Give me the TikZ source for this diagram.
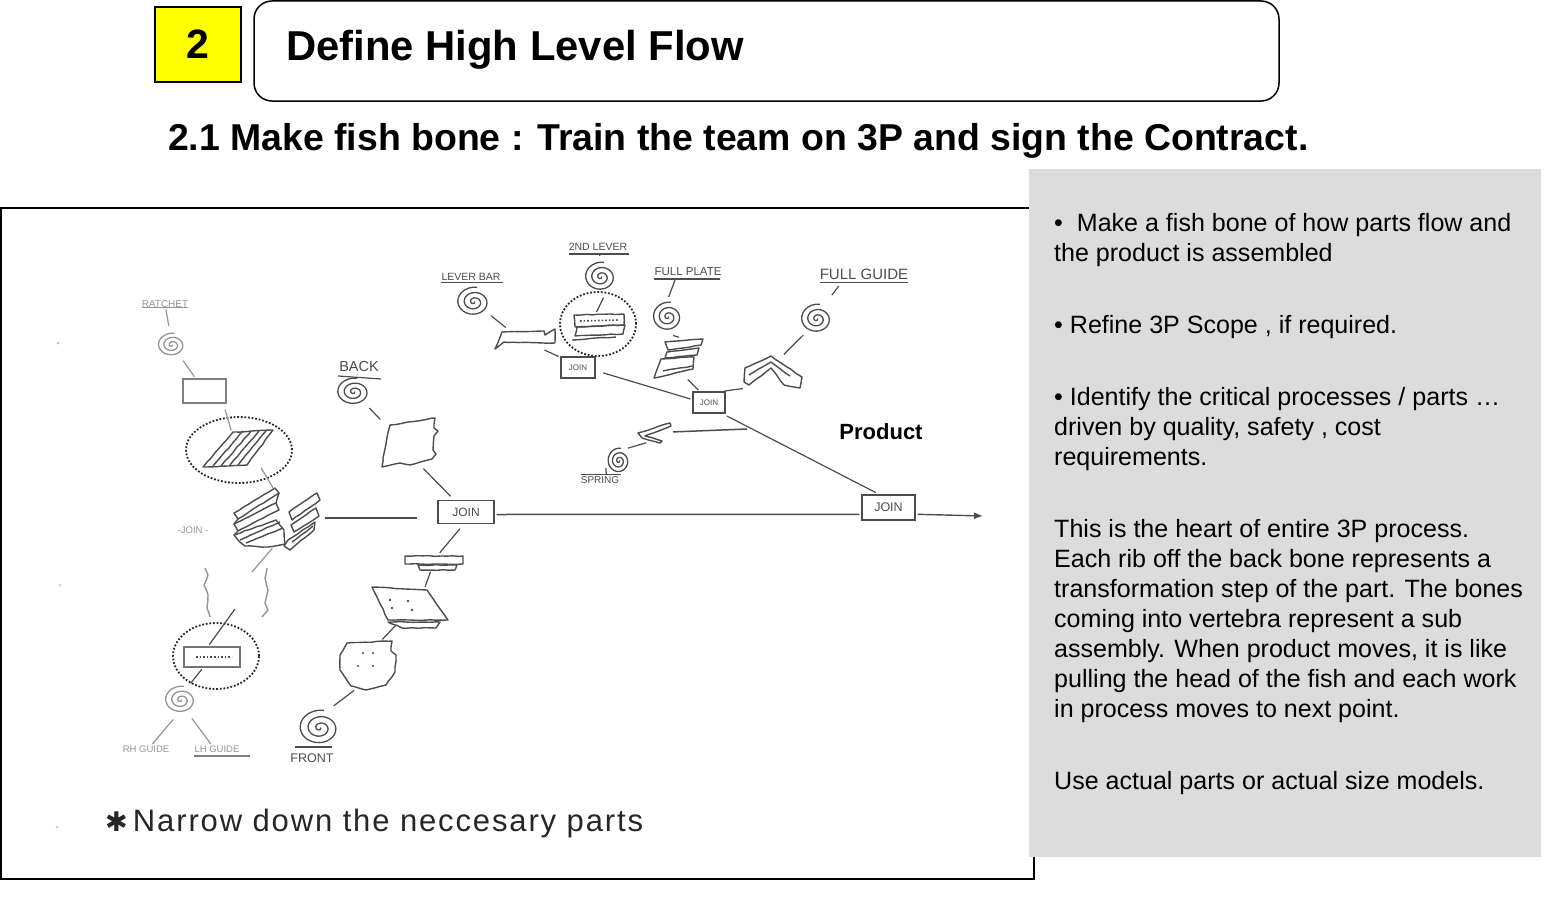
\documentclass[tikz,border=0pt]{standalone}
\usepackage{fontspec}
\setmainfont{Liberation Sans}
\newfontfamily\notefont[LetterSpace=6]{Liberation Sans}
\newfontfamily\starfont{DejaVu Sans}
\usetikzlibrary{shapes.geometric,decorations.pathmorphing,arrows.meta}

\definecolor{panelgray}{HTML}{DCDCDC}
\definecolor{stepyellow}{HTML}{FFFF00}
\colorlet{ink}{black!70}
\colorlet{faintink}{black!42}

\tikzset{
  rough/.style={draw=ink,line width=1.4pt,line join=round,decorate,
    decoration={random steps,segment length=6pt,amplitude=0.4pt}},
  faintrough/.style={rough,draw=faintink},
  link/.style={draw=ink,line width=1.2pt,shorten >=2pt,shorten <=2pt},
  faintlink/.style={link,draw=faintink},
  joinbox/.style={rectangle,draw=ink,line width=1.2pt,inner sep=0pt,text=ink},
  partbox/.style={rectangle,inner sep=0pt},
  sketchlabel/.style={inner sep=0pt,text=ink},
  dotring/.style={ellipse,draw=black!85,line width=1.8pt,inner sep=0pt,
    dash pattern=on 1.8pt off 1.8pt},
  bodyline/.style={anchor=base west,inner sep=0pt,font=\fontsize{25.05}{30}\selectfont,text=black}
}

% spiral with a round node round it, so connectors stop short of it
\newcommand{\coil}[6][ink]{
  \node[circle,inner sep=0pt,minimum size=#5*2pt+4pt] (#2) at (#3,#4) {};
  \draw[#1,line width=1.3pt,smooth] plot[domain=0:1000,samples=70,variable=\t]
    ({#3+#5*(\t/1000)*cos(\t)},{#4+#6*(\t/1000)*sin(\t)});
}

\begin{document}
\begin{tikzpicture}[x=1pt,y=-1pt]
\useasboundingbox (0,0) rectangle (1566,907);

% header
\node[rectangle,draw=black,line width=2pt,fill=stepyellow,minimum width=86pt,minimum height=74pt,
  font=\fontsize{41}{41}\bfseries\selectfont] (stepno) at (197.5,44.5) {2};
\node[rectangle,rounded corners=18pt,draw=black,line width=1.5pt,minimum width=1025pt,minimum height=100pt] (titlebox) at (766.5,51) {};
\node[anchor=base west,inner sep=0pt,font=\fontsize{41.8}{40}\bfseries\selectfont] (title) at (286,60) {Define High Level Flow};
\node[anchor=base west,inner sep=0pt,font=\fontsize{37.4}{40}\bfseries\selectfont] (subtitle) at (168,150) {2.1 Make fish bone : Train the team on 3P and sign the Contract.};

% photo frame and grey panel
\node[rectangle,draw=black,line width=1.3pt,minimum width=1033pt,minimum height=671pt] (frame) at (517.5,543.5) {};
\node[rectangle,fill=panelgray,minimum width=512pt,minimum height=688pt] (panel) at (1285,513) {};

\node[bodyline] (t1) at (1054,231) {•\ \ Make a fish bone of how parts flow and};
\node[bodyline] (t2) at (1054,261) {the product is assembled};
\node[bodyline] (t3) at (1054,333) {• Refine 3P Scope , if required.};
\node[bodyline] (t4) at (1054,405) {• Identify the critical processes / parts …};
\node[bodyline] (t5) at (1054,435) {driven by quality, safety , cost};
\node[bodyline] (t6) at (1054,465) {requirements.};
\node[bodyline] (t7) at (1054,537) {This is the heart of entire 3P process.};
\node[bodyline] (t8) at (1054,567) {Each rib off the back bone represents  a};
\node[bodyline] (t9) at (1054,597) {transformation step of the part. The bones};
\node[bodyline] (t10) at (1054,627) {coming into vertebra  represent a sub};
\node[bodyline] (t11) at (1054,657) {assembly.  When product moves, it is like};
\node[bodyline] (t12) at (1054,687) {pulling the head of the fish and each work};
\node[bodyline] (t13) at (1054,717) {in process moves to next point.};
\node[bodyline] (t14) at (1054,789) {Use actual parts or actual size models.};

\node[inner sep=0pt,font=\fontsize{22}{22}\bfseries\selectfont] (product) at (881,432) {Product};
\node[anchor=base west,inner sep=0pt,text=black!85,font=\fontsize{31}{31}\notefont] (note) at (105,831) {{\starfont\fontsize{27}{27}\selectfont ✱}\,Narrow down the neccesary parts};

% scan specks
\fill[black!25] (58,343) circle (1.5pt);
\fill[black!15] (60,585) circle (1.5pt);
\fill[red!30] (57,827) circle (1.5pt);

% joins
\node[joinbox,minimum width=56pt,minimum height=23pt,font=\fontsize{12}{12}\selectfont] (joinA) at (466,512) {JOIN};
\node[joinbox,minimum width=53pt,minimum height=25pt,font=\fontsize{12.5}{12}\selectfont] (joinB) at (888.5,507.5) {JOIN};
\node[joinbox,minimum width=34pt,minimum height=21pt,font=\fontsize{8}{8}\selectfont] (joinC) at (578,367.5) {JOIN};
\node[joinbox,minimum width=32pt,minimum height=21pt,font=\fontsize{8}{8}\selectfont] (joinD) at (709,402.5) {JOIN};

% labels
\node[sketchlabel,font=\fontsize{10}{10}\selectfont,text=faintink] (lblRatchet) at (165,304) {RATCHET};
\node[sketchlabel,font=\fontsize{14.5}{14}\selectfont] (lblBack) at (359,367) {BACK};
\node[sketchlabel,font=\fontsize{10.5}{10}\selectfont] (lblLever) at (471,277) {LEVER BAR};
\node[sketchlabel,font=\fontsize{10.5}{10}\selectfont] (lblSecond) at (598,247) {2ND LEVER};
\node[sketchlabel,font=\fontsize{11.5}{10}\selectfont] (lblPlate) at (688,272) {FULL PLATE};
\node[sketchlabel,font=\fontsize{15}{14}\selectfont] (lblGuide) at (864,274) {FULL GUIDE};
\node[sketchlabel,font=\fontsize{10}{10}\selectfont] (lblSpring) at (600,480) {SPRING};
\node[sketchlabel,font=\fontsize{12.5}{12}\selectfont] (lblFront) at (312,758) {FRONT};
\node[sketchlabel,font=\fontsize{9.5}{10}\selectfont,text=faintink] (lblRh) at (146,749) {RH GUIDE};
\node[sketchlabel,font=\fontsize{9.5}{10}\selectfont,text=faintink] (lblLh) at (217,749) {LH GUIDE};
\node[sketchlabel,font=\fontsize{9.5}{10}\selectfont,text=faintink] (lblHold) at (193,530) {-JOIN -};

% underlines
\draw[faintink,line width=1pt] (lblRatchet.south west) -- (lblRatchet.south east);
\draw[ink,line width=1.2pt] (338,376) -- (381,379);
\draw[ink,line width=1.2pt] (lblLever.south west) ++(0,2) -- ++(62,0);
\draw[ink,line width=1.5pt] (lblSecond.south west) ++(0,3) -- ++(60,0);
\draw[ink,line width=1.5pt] (lblPlate.south west) ++(0,3) -- ++(66,0);
\draw[ink,line width=1.6pt] (lblGuide.south west) ++(0,3) -- ++(88,0);
\draw[ink,line width=1.2pt] (lblSpring.north west) ++(0,-2) -- ++(40,0);
\draw[ink,line width=1.2pt] (295,747) -- (332,747);
\draw[black!50,line width=2pt] (lblLh.south west) ++(0,3) -- ++(56,0);

% coils
\coil[faintink]{coilRatchet}{172}{345}{15}{12}
\coil{coilBack}{354}{392}{18}{14}
\coil{coilLever}{474}{302}{18}{15}
\coil{coilSecond}{601}{277}{17}{15}
\coil{coilPlate}{668}{317}{16}{15}
\coil{coilGuide}{817}{319}{17}{15}
\coil{coilSpring}{619}{461}{12}{13}
\coil{coilFront}{320}{728}{22}{18}
\coil[faintink]{coilGuides}{181}{700}{17}{14}

% upper left branch
\node[partbox,draw=black!50,line width=1.4pt,minimum width=43pt,minimum height=24pt] (ratchetBlank) at (204.5,391) {};
\node[dotring,minimum width=106pt,minimum height=66pt] (ringFin) at (239,450) {};
\node[partbox,minimum width=70pt,minimum height=37pt] (finPlate) at (238,449) {};
\draw[rough] (203,467) -- (233,432) -- (273,430) -- (247,465) -- cycle;
\draw[rough] (213,466) -- (243,431);
\draw[rough] (221,466) -- (251,431);
\draw[rough] (230,465) -- (259,431);
\draw[rough] (238,465) -- (266,431);

\node[partbox,minimum width=85pt,minimum height=60pt] (holder) at (275,518) {};
\draw[rough,fill=white] (234,513) -- (275,488) -- (279,493) -- (238,519) -- cycle;
\draw[rough,fill=white] (234,524) -- (276,503) -- (279,510) -- (238,531) -- cycle;
\draw[rough] (238,519) -- (234,524);
\draw[rough] (279,493) -- (276,503);
\draw[rough,fill=white] (234,535) -- (276,520) -- (284,530) -- (285,544) -- (268,547) -- (245,546) -- (238,540) -- cycle;
\draw[rough] (240,540) -- (280,522);
\draw[rough] (246,543) -- (283,528);
\draw[rough] (238,531) -- (234,535);
\draw[rough,fill=white] (289,512) -- (317,493) -- (320,500) -- (292,520) -- cycle;
\draw[rough,fill=white] (291,525) -- (316,508) -- (319,516) -- (294,532) -- cycle;
\draw[rough,fill=white] (288,540) -- (315,522) -- (314,530) -- (290,550) -- (284,546) -- cycle;
\draw[rough] (292,542) -- (313,526);

% lower left branch
\node[dotring,minimum width=86pt,minimum height=66pt] (ringLower) at (216,656) {};
\node[partbox,draw=black!55,line width=1.4pt,minimum width=56pt,minimum height=20pt] (guideBar) at (212,657) {};
\draw[ink,line width=1.6pt,dotted] (196,657) -- (232,657);
\draw[faintrough] (205,568) -- (208,575) -- (204,585) -- (208,595) -- (207,608) -- (210,617);
\draw[faintrough] (267,568) -- (265,578) -- (268,590) -- (265,603) -- (268,610) -- (262,617);
\coordinate (stemTop) at (235,609);
\coordinate (wireTop) at (252,572);

% back, front branch
\node[partbox,minimum width=52pt,minimum height=48pt] (backPlate) at (408,443) {};
\draw[rough] (390,425) -- (435,418) -- (434,428) -- (438,431) -- (434,436) -- (433,450) -- (436,454) -- (432,459) -- (410,465) -- (400,463) -- (382,467) -- (383,458) -- (386,444) -- cycle;
\node[partbox,minimum width=58pt,minimum height=15pt] (frontBar) at (434,562) {};
\draw[rough] (405,556) -- (463,556) -- (463,564) -- (405,564) -- cycle;
\draw[rough] (418,565) -- (457,565) -- (455,570) -- (420,570) -- cycle;
\node[partbox,minimum width=70pt,minimum height=36pt] (frontPlate) at (412,606) {};
\draw[rough] (372,587) -- (427,590) -- (448,620) -- (388,620) -- cycle;
\draw[rough] (388,622) -- (440,622) -- (436,628) -- (402,628) -- cycle;
\fill[ink] (390,600) circle (1.4pt) (408,601) circle (1.4pt) (392,608) circle (1.4pt) (412,610) circle (1.4pt);
\node[partbox,minimum width=56pt,minimum height=48pt] (frontBlank) at (367,665) {};
\draw[rough] (347,643) -- (392,641) -- (391,651) -- (396,655) -- (395,672) -- (386,685) -- (366,690) -- (351,686) -- (340,670) -- (340,655) -- cycle;
\fill[ink] (363,653) circle (1.2pt) (373,653) circle (1.2pt) (358,666) circle (1.2pt) (373,666) circle (1.2pt);

% upper right branch
\node[partbox,minimum width=60pt,minimum height=20pt] (leverBar) at (525,339) {};
\draw[rough] (495,349) -- (502,332) -- (544,331) -- (545,335) -- (555,329) -- (555,343) -- (504,342) -- cycle;
\node[dotring,minimum width=76pt,minimum height=64pt] (ringSecond) at (598,324) {};
\node[partbox,minimum width=51pt,minimum height=26pt] (secondLever) at (598,327) {};
\draw[rough] (574,315) -- (624,314) -- (624,325) -- (575,327) -- cycle;
\draw[rough] (577,327) -- (625,325) -- (623,334) -- (575,336) -- cycle;
\draw[rough] (572,340) -- (616,337);
\draw[ink,line width=1.6pt,dotted] (580,321) -- (618,320);
\node[partbox,minimum width=50pt,minimum height=40pt] (plateStack) at (679,358) {};
\draw[rough] (665,342) -- (703,339) -- (701,345) -- (668,350) -- cycle;
\draw[rough] (667,352) -- (699,348) -- (697,355) -- (665,358) -- cycle;
\draw[rough] (661,359) -- (694,357) -- (693,369) -- (654,378) -- cycle;
\draw[rough] (663,371) -- (692,366);
\node[partbox,minimum width=58pt,minimum height=32pt] (guideAngle) at (773,372) {};
\draw[rough] (744,382) -- (745,368) -- (771,356) -- (802,377) -- (800,388) -- (784,385) -- (771,368) -- (749,385) -- cycle;
\draw[rough] (749,375) -- (771,362) -- (790,376);
\node[partbox,minimum width=34pt,minimum height=20pt] (springPart) at (654,432) {};
\draw[rough] (638,433) -- (670,423) -- (671,426) -- (645,436) -- (662,441) -- (660,443) -- (642,438) -- cycle;

% connectors
\draw[faintlink] (lblRatchet) -- (coilRatchet);
\draw[faintlink] (coilRatchet) -- (ratchetBlank);
\draw[faintlink,shorten <=6pt,shorten >=0pt] (ratchetBlank.-34) -- (finPlate.110);
\draw[faintlink,shorten <=0pt,shorten >=0pt] (finPlate.-39) -- (holder.94);
\draw[link,shorten >=20pt,shorten <=7pt] (holder.east) -- (holder.east -| joinA.west);
\draw[link] (lblBack) -- (coilBack);
\draw[link] (coilBack) -- (backPlate.140);
\draw[link,shorten >=5pt] (backPlate.-60) -- (joinA);
\draw[link,shorten <=6pt] (joinA.-100) -- (frontBar.60);
\draw[link,shorten >=1pt] (frontBar) -- (frontPlate.55);
\draw[link] (frontPlate.-130) -- (frontBlank.60);
\draw[link] (frontBlank.-115) -- (coilFront.60);
\draw[faintlink,shorten <=0pt,shorten >=0pt] (holder.-95) -- (wireTop);
\draw[link,shorten <=0pt] (stemTop) -- (guideBar.110);
\draw[link,shorten >=0pt] (guideBar.-130) -- (coilGuides.60);
\draw[faintlink] (coilGuides.-110) -- (lblRh.35);
\draw[faintlink] (coilGuides.-60) -- (lblLh.145);
\draw[link] (coilLever) -- (leverBar.150);
\draw[link] (leverBar.-30) -- (joinC.150);
\draw[link] (lblSecond.-70) -- (coilSecond);
\draw[link] (coilSecond.-80) -- (secondLever.100);
\draw[link,shorten <=8pt] (joinC.-10) -- (joinD.170);
\draw[link,shorten <=4pt] (lblPlate.-160) -- (coilPlate.north);
\draw[link] (coilPlate.-80) -- (plateStack.85);
\draw[link] (plateStack.-70) -- (joinD.130);
\draw[link,shorten <=8pt,shorten >=9pt] (lblGuide.-165) -- (coilGuide.60);
\draw[link] (coilGuide.-130) -- (guideAngle.60);
\draw[link] (guideAngle.-150) -- (joinD.40);
\draw[link,shorten <=5pt,shorten >=4pt] (joinD.-40) -- (joinB.125);
\coordinate (ribFoot) at (747,429);
\draw[link,line width=1.5pt,shorten <=0pt] (ribFoot) -- (springPart.east);
\draw[link] (springPart.-120) -- (coilSpring.60);
\draw[link] (coilSpring.-160) -- (lblSpring.30);

% back bone
\draw[link,line width=1.5pt] (joinA.-5) -- (joinB.-166);
\coordinate (fishHead) at (983,516);
\draw[link,line width=1.4pt,shorten >=0pt,-{Latex[length=9pt,width=7pt]}] (joinB.-14) -- (fishHead);
\end{tikzpicture}
\end{document}
